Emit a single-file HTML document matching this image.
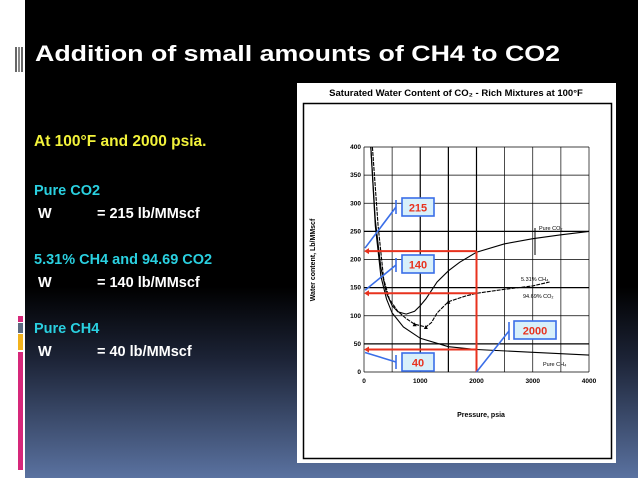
<!DOCTYPE html>
<html><head><meta charset="utf-8"><style>
body{margin:0;width:638px;height:478px;overflow:hidden;background:#fff;font-family:"Liberation Sans",sans-serif}
</style></head><body>
<svg width="638" height="478" viewBox="0 0 638 478" xmlns="http://www.w3.org/2000/svg">
<defs>
<linearGradient id="bg" x1="0" y1="0" x2="0" y2="1">
<stop offset="0" stop-color="#000"/><stop offset="0.6" stop-color="#000"/><stop offset="0.75" stop-color="#1c2336"/><stop offset="1" stop-color="#5a72a0"/>
</linearGradient>
</defs>
<rect x="25" y="0" width="613" height="478" fill="url(#bg)"/>
<g>
<rect x="15" y="47" width="2" height="25" fill="#666"/><rect x="18" y="47" width="2" height="25" fill="#888"/><rect x="21" y="47" width="2" height="25" fill="#666"/>
<rect x="18" y="316" width="5" height="6" fill="#d6287a"/><rect x="18" y="323" width="5" height="10" fill="#5b6a80"/><rect x="18" y="334" width="5" height="16" fill="#f2b21c"/><rect x="18" y="352" width="5" height="118" fill="#d6287a"/>
</g>
<text x="35" y="61" font-size="22" font-weight="bold" fill="#fff" textLength="525" lengthAdjust="spacingAndGlyphs">Addition of small amounts of  CH4 to CO2</text>
<g font-size="14.5" font-weight="bold">
<text x="34" y="146" fill="#f2f23a" font-size="15.5">At 100°F and 2000 psia.</text>
<text x="34" y="195" fill="#2ad0e0">Pure CO2</text>
<text x="38" y="218" fill="#fff">W</text><text x="97" y="218" fill="#fff">= 215 lb/MMscf</text>
<text x="34" y="264" fill="#2ad0e0">5.31% CH4 and 94.69 CO2</text>
<text x="38" y="287" fill="#fff">W</text><text x="97" y="287" fill="#fff">= 140 lb/MMscf</text>
<text x="34" y="333" fill="#2ad0e0">Pure CH4</text>
<text x="38" y="356" fill="#fff">W</text><text x="97" y="356" fill="#fff">= 40 lb/MMscf</text>
</g>
<g>
<rect x="297" y="83" width="319" height="380" fill="#fff"/>
<text x="456" y="96" font-size="9.5" font-weight="bold" text-anchor="middle" fill="#000">Saturated Water Content of CO₂ - Rich Mixtures at 100°F</text>
<rect x="303.5" y="103.5" width="308" height="355" fill="none" stroke="#000" stroke-width="1.5"/>
<g id="plot"></g>
</g>
</svg>
<script>
const xTicks=[0,1000,2000,3000,4000];
const yTicks=[0,50,100,150,200,250,300,350,400];
const co2P=[120,200,300,400,500,600,750,900,1000,1100,1300,1500,1700,2000,2500,3000,3500,4000];
const co2W=[400,270,185,140,118,107,103,108,118,130,160,180,195,213,228,237,244,250];
const mixP=[150,250,350,450,600,750,900,1100,1200,1300,1500,1800,2000,2500,3000,3300];
const mixW=[400,260,165,130,108,95,85,80,88,105,125,135,140,147,153,160];
const markP=[900,1100,1500];
const markW=[85,80,125];
const ch4P=[120,200,300,400,500,700,1000,1500,2000,3000,4000];
const ch4W=[400,260,170,130,105,80,60,45,40,35,30];
const readP=2000;
const readW=[215,140,40];
const readLabels=["215","140","40"];
const X=p=>364+p*(225/4000);
const Y=w=>372-w*(225/400);
const NS="http://www.w3.org/2000/svg";
const g=document.getElementById('plot');
function mk(t,a,par){const e=document.createElementNS(NS,t);for(const k in a)e.setAttribute(k,a[k]);(par||g).appendChild(e);return e;}
const grid=mk('g',{});


for(let p=0;p<=4000;p+=500){mk('line',{x1:X(p),x2:X(p),y1:Y(0),y2:Y(400),stroke:'#000','stroke-width':(p==1500||p==2000||p==1000)?1.2:0.7},grid);}
for(let w=0;w<=400;w+=50){mk('line',{x1:X(0),x2:X(4000),y1:Y(w),y2:Y(w),stroke:'#000','stroke-width':(w==50||w==250||w==150)?1.2:0.7},grid);}
const ax=mk('g',{'font-size':6.5,'font-weight':'bold','font-family':'Liberation Sans'});


xTicks.forEach(t=>{const e=mk('text',{x:X(t),y:383,'text-anchor':'middle'},ax);e.textContent=t;});
yTicks.forEach(t=>{const e=mk('text',{x:X(0)-3,y:Y(t)+2,'text-anchor':'end'},ax);e.textContent=t;});
const xt=mk('text',{x:481,y:417,'text-anchor':'middle','font-size':7},ax);xt.textContent='Pressure, psia';
const yt=mk('text',{x:315,y:260,'text-anchor':'middle','font-size':7,transform:'rotate(-90 315 260)'},ax);yt.textContent='Water content, Lb/MMscf';
function curve(P,W,name,dash){const d=P.map((p,i)=>(i?'L':'M')+X(p).toFixed(1)+','+Y(W[i]).toFixed(1)).join('');const e=mk('path',{d:d,fill:'none',stroke:'#000','stroke-width':1.1,'stroke-dasharray':dash||'none'});}
curve(co2P,co2W,'pure-co2-curve');
curve(mixP,mixW,'mix-curve','4,1');
curve(ch4P,ch4W,'pure-ch4-curve');
markP.forEach((p,i)=>{const e=mk('path',{d:`M${X(p)-2},${Y(markW[i])+2}L${X(p)+2},${Y(markW[i])+2}L${X(p)},${Y(markW[i])-2}Z`,fill:'#000'});});
const lab=mk('g',{'font-size':5.5,'font-family':'Liberation Sans'});


[['Pure CO₂',539,230],['5.31% CH₄',521,281],['94.69% CO₂',523,298],['Pure CH₄',543,366]].forEach(a=>{const e=mk('text',{x:a[1],y:a[2]},lab);e.textContent=a[0];});
mk('line',{x1:535,y1:228,x2:535,y2:255,stroke:'#000','stroke-width':1});
const red=mk('g',{stroke:'#e8321e','stroke-width':2,fill:'none'});


mk('line',{x1:X(readP),y1:Y(0),x2:X(readP),y2:Y(readW[0])},red);
readW.forEach(w=>{mk('line',{x1:X(0)+4,y1:Y(w),x2:X(readP),y2:Y(w)},red);mk('path',{d:`M${X(0)},${Y(w)}l5,-3v6z`,fill:'#e8321e',stroke:'none'},red);});
const boxes=[[402,198,'215',250,207],[402,255,'140',294,265],[402,353,'40',350,362]];
readW.forEach((w,i)=>{const b=boxes[i];const cg=mk('g',{});
mk('line',{x1:X(0)+1,y1:Y(w)+(i==2?3:-3),x2:396,y2:b[4],stroke:'#3a6ee8','stroke-width':1.6},cg);
mk('line',{x1:396,y1:b[4]-7,x2:396,y2:b[4]+7,stroke:'#3a6ee8','stroke-width':1.6},cg);
mk('rect',{x:b[0],y:b[1],width:32,height:18,fill:'#d8f0fa',stroke:'#3a6ee8','stroke-width':1.6},cg);
const t=mk('text',{x:b[0]+16,y:b[1]+13.5,'text-anchor':'middle','font-size':11,'font-weight':'bold',fill:'#e8321e','font-family':'Liberation Sans'},cg);t.textContent=readLabels[i];});
const cg=mk('g',{});
mk('line',{x1:X(readP),y1:Y(0),x2:509,y2:331,stroke:'#3a6ee8','stroke-width':1.6},cg);
mk('line',{x1:509,y1:322,x2:509,y2:340,stroke:'#3a6ee8','stroke-width':1.6},cg);
mk('rect',{x:514,y:321,width:42,height:18,fill:'#d8f0fa',stroke:'#3a6ee8','stroke-width':1.6},cg);
const t2=mk('text',{x:535,y:334.5,'text-anchor':'middle','font-size':11,'font-weight':'bold',fill:'#e8321e','font-family':'Liberation Sans'},cg);t2.textContent=String(readP);
</script>
</body></html>
